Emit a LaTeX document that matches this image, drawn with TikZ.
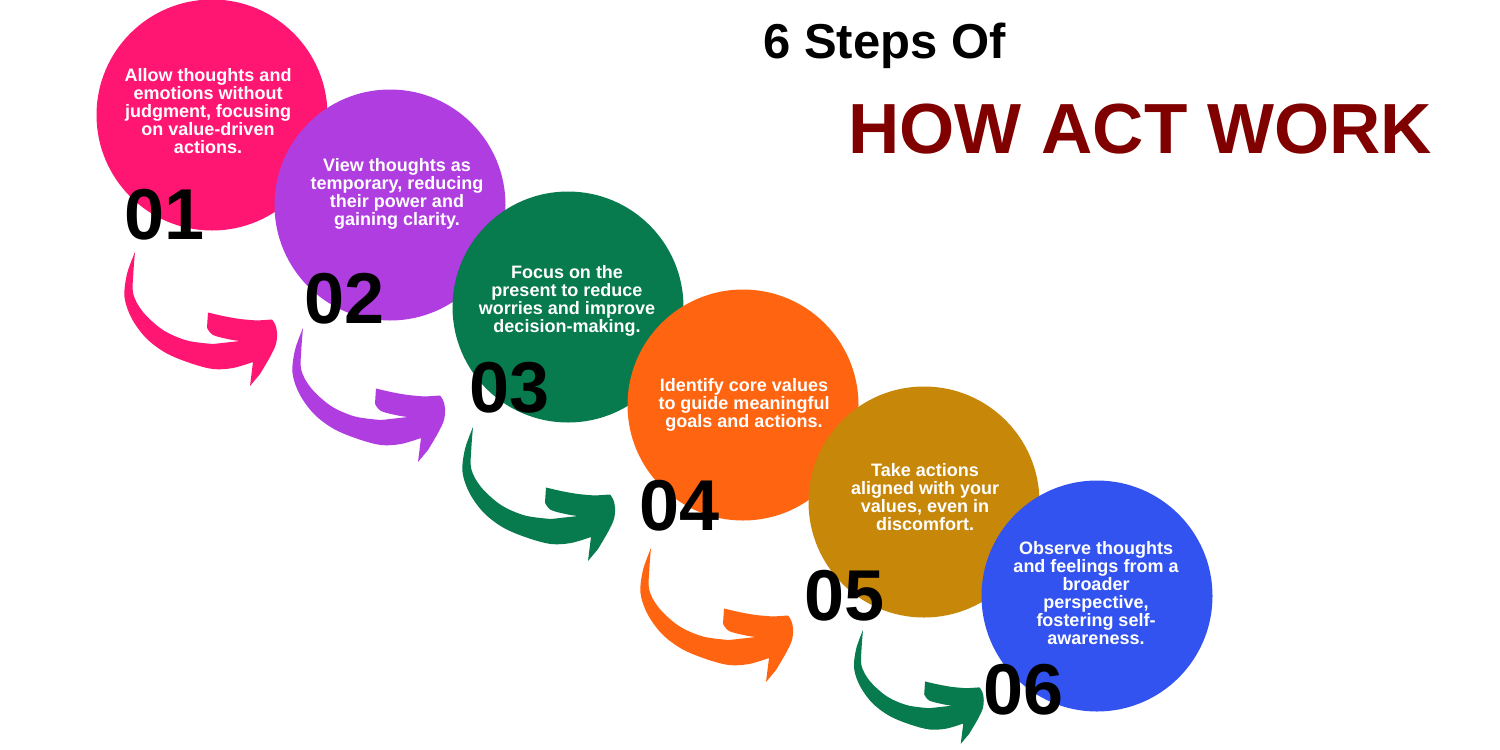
\documentclass[tikz,border=0pt]{standalone}
\usepackage{fontspec}
\setmainfont{Liberation Sans}
\definecolor{pinkc}{HTML}{FF1672}
\definecolor{purplec}{HTML}{AF3DE0}
\definecolor{greenc}{HTML}{077A4E}
\definecolor{orangec}{HTML}{FF6510}
\definecolor{goldc}{HTML}{C78709}
\definecolor{bluec}{HTML}{3253EF}
\definecolor{titlered}{HTML}{800000}
\tikzset{
  carrow/.pic={
    \fill[pic actions]
      plot[smooth,tension=.55] coordinates {(0,0) (-8,22) (-10.5,45) (-3.5,66) (11,86) (31,101) (55,111) (78,117) (98,116) (118,110)}
      -- (115,134)
      -- plot[smooth,tension=.55] coordinates {(125,122) (135,105) (141,92) (142,80) (140,72) (137,67.5)}
      -- plot[smooth,tension=.55] coordinates {(122,68.5) (105,67) (88,64) (73,60.5)}
      -- plot[smooth,tension=.55] coordinates {(72,75.7) (78,83) (95,87.5) (105,89)}
      -- plot[smooth,tension=.55] coordinates {(78,92) (52,88.5) (28,78) (8,60) (-1.7,42) (-1.7,22) (0,0)}
      -- cycle;
  },
  circ/.style={circle, minimum size=115.5pt, inner sep=0pt, draw=none},
  ctext/.style={text=white, align=center, inner sep=0pt, font=\fontsize{9}{9}\selectfont\bfseries},
  num/.style={inner sep=0pt, font=\fontsize{36}{36}\selectfont\bfseries, text=black},
}
\begin{document}
\begin{tikzpicture}[x=0.5pt,y=-0.5pt]
\fill[white] (0,0) rectangle (1500,750);
\useasboundingbox (0,0) rectangle (1500,750);

% circles
\node[circ, fill=pinkc]   (c1) at (212,115) {};
\node[circ, fill=purplec] (c2) at (390,205) {};
\node[circ, fill=greenc]  (c3) at (568,307) {};
\node[circ, fill=orangec] (c4) at (743,405) {};
\node[circ, fill=goldc]   (c5) at (924,502) {};
\node[circ, fill=bluec]   (c6) at (1097,596) {};

% texts
\node[ctext] (t1) at (208,111) {Allow thoughts and\\emotions without\\judgment, focusing\\on value-driven\\actions.};
\node[ctext] (t2) at (397,194) {View thoughts as\\temporary, reducing\\their power and\\gaining clarity.};
\node[ctext] (t3) at (567,301) {Focus on the\\present to reduce\\worries and improve\\decision-making.};
\node[ctext] (t4) at (744,405) {Identify core values\\to guide meaningful\\goals and actions.};
\node[ctext] (t5) at (925,497) {Take actions\\aligned with your\\values, even in\\discomfort.};
\node[ctext] (t6) at (1096,593) {Observe thoughts\\and feelings from a\\broader\\perspective,\\fostering self-\\awareness.};

% arrows
\pic[fill=pinkc]   (a1) at (135,252) {carrow};
\pic[fill=purplec] (a2) at (303,328) {carrow};
\pic[fill=greenc]  (a3) at (473,427) {carrow};
\pic[fill=orangec] (a4) at (651,548) {carrow};
\pic[fill=greenc, scale=0.85] (a5) at (863,630) {carrow};

% numbers
\node[num] (n1) at (165,215) {01};
\node[num] (n2) at (345,299) {02};
\node[num] (n3) at (510,388) {03};
\node[num] (n4) at (680,506) {04};
\node[num] (n5) at (845,596) {05};
\node[num] (n6) at (1024,690) {06};

% titles
\node[anchor=base west, inner sep=0pt, font=\fontsize{24.5}{24.5}\selectfont\bfseries] (title1) at (763,58) {6 Steps Of};
\node[anchor=base west, inner sep=0pt, text=titlered, font=\fontsize{35.5}{35.5}\selectfont\bfseries] (title2) at (848,153) {HOW ACT WORK};
\end{tikzpicture}
\end{document}
